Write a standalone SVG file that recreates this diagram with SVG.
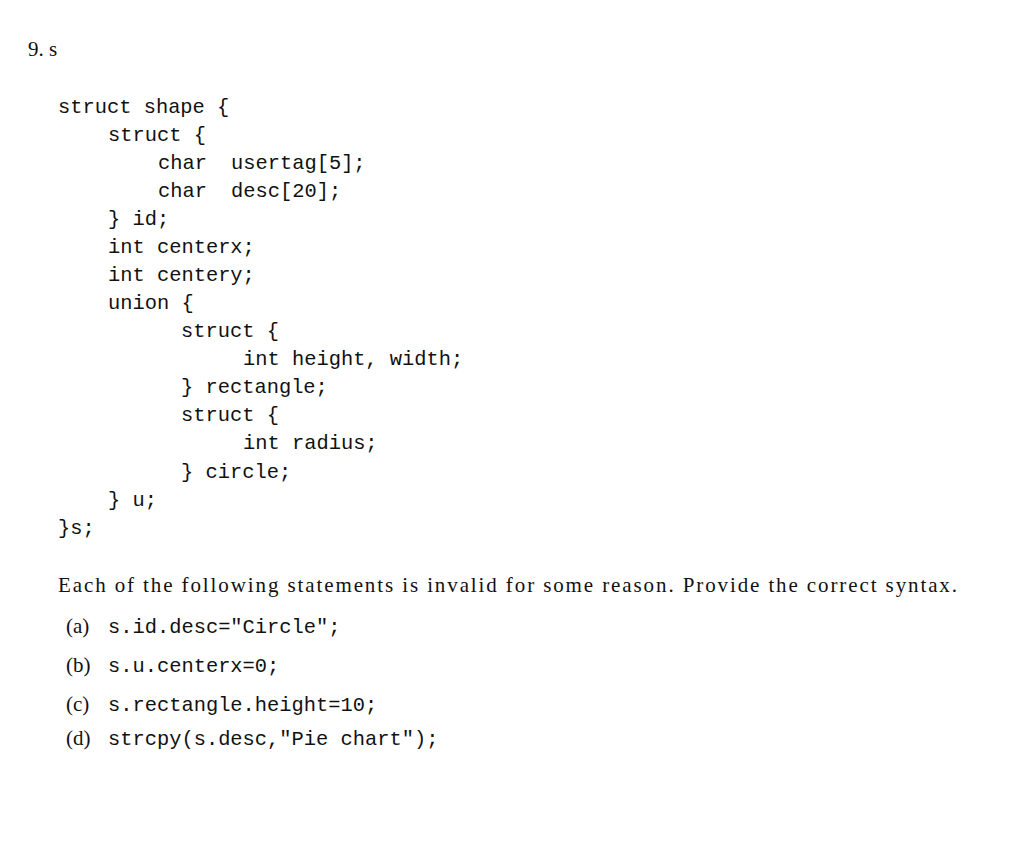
<svg xmlns="http://www.w3.org/2000/svg" width="1024" height="850" viewBox="0 0 1024 850">
<style>
.m{font-family:"Liberation Mono","DejaVu Sans Mono",monospace;font-size:20.4px;fill:#111}
.s{font-family:"Liberation Serif","DejaVu Serif",serif;font-size:21px;fill:#111}
</style>
<rect width="1024" height="850" fill="#fff"/>
<g id="title"><text class="s" x="28" y="56">9. s</text></g>
<g id="code">
<text class="m" x="58" y="113">struct shape {</text>
<text class="m" x="108" y="141">struct {</text>
<text class="m" x="158" y="169">char</text><text class="m" x="231" y="169">usertag[5];</text>
<text class="m" x="158" y="197">char</text><text class="m" x="231" y="197">desc[20];</text>
<text class="m" x="108" y="225">} id;</text>
<text class="m" x="108" y="253">int centerx;</text>
<text class="m" x="108" y="281">int centery;</text>
<text class="m" x="108" y="309">union {</text>
<text class="m" x="181" y="337">struct {</text>
<text class="m" x="243" y="365">int height, width;</text>
<text class="m" x="181" y="393">} rectangle;</text>
<text class="m" x="181" y="421">struct {</text>
<text class="m" x="243" y="449">int radius;</text>
<text class="m" x="181" y="478">} circle;</text>
<text class="m" x="108" y="506">} u;</text>
<text class="m" x="58" y="534">}s;</text>
</g>
<g id="question">
<text class="s" x="58" y="592" textLength="899">Each of the following statements is invalid for some reason. Provide the correct syntax.</text>
<text class="s" x="66" y="633">(a)</text><text class="m" x="108" y="633">s.id.desc="Circle";</text>
<text class="s" x="66" y="672">(b)</text><text class="m" x="108" y="672">s.u.centerx=0;</text>
<text class="s" x="66" y="711">(c)</text><text class="m" x="108" y="711">s.rectangle.height=10;</text>
<text class="s" x="66" y="745">(d)</text><text class="m" x="108" y="745">strcpy(s.desc,"Pie chart");</text>
</g>
</svg>
